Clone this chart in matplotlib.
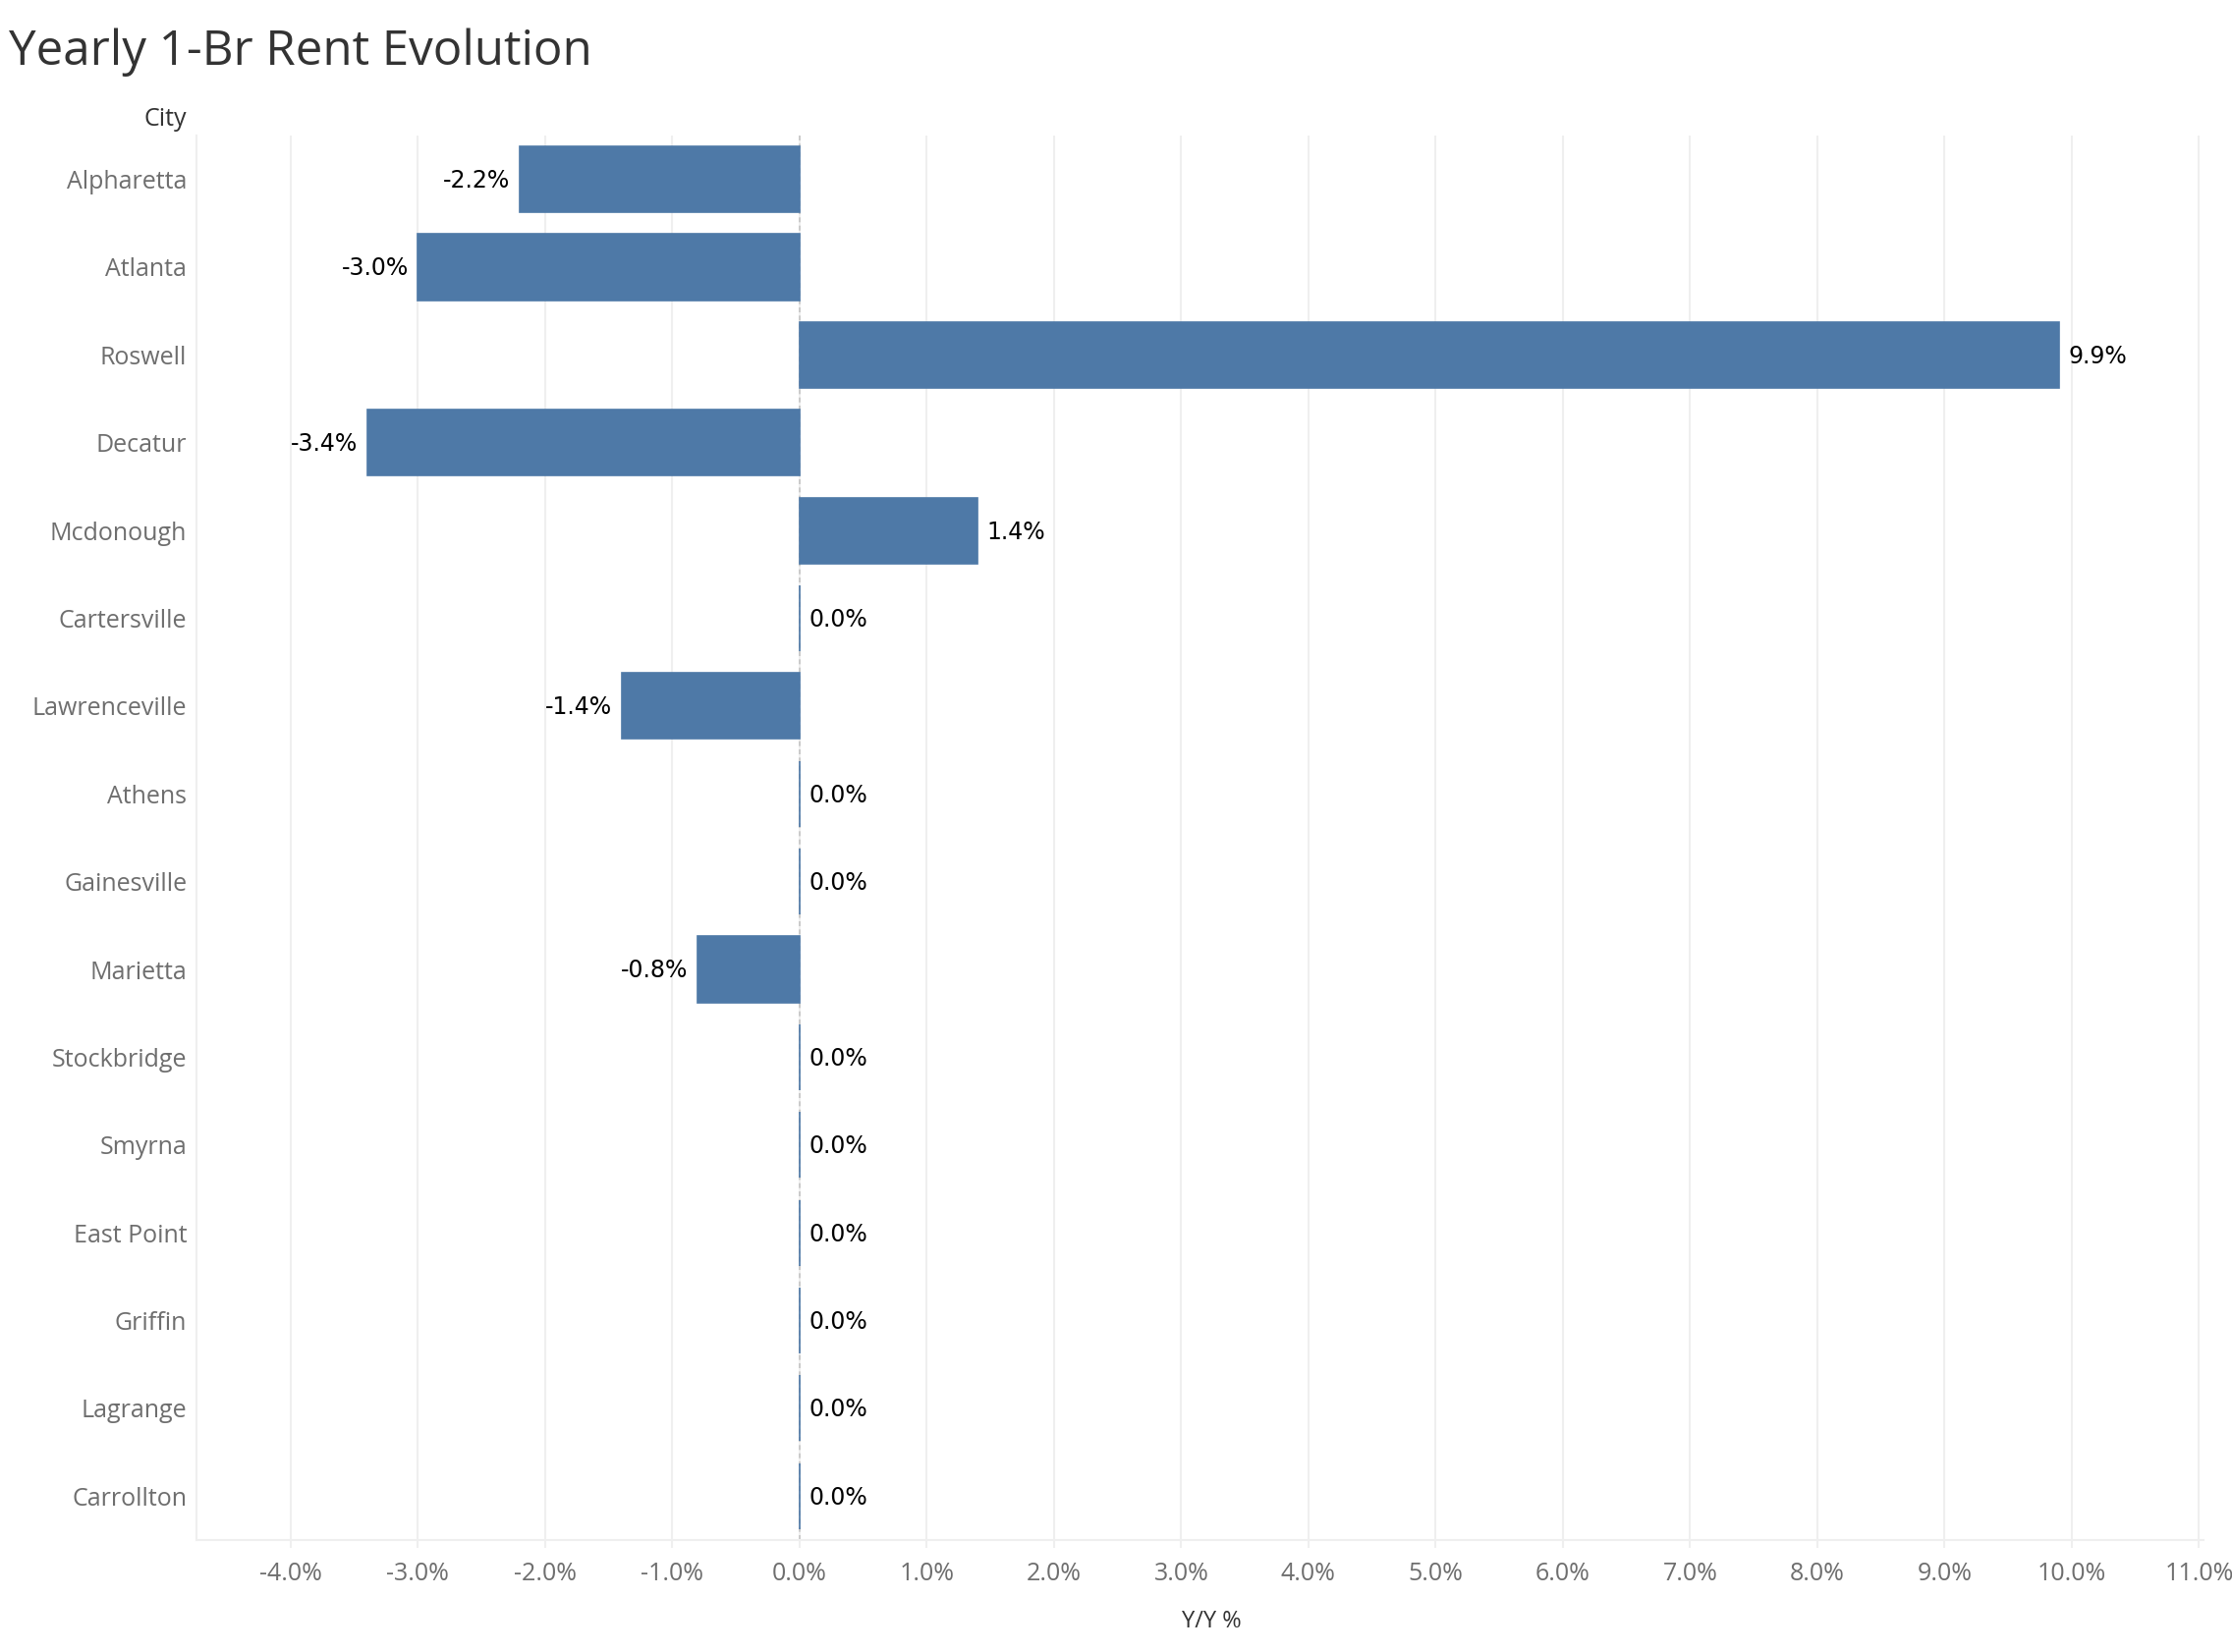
import matplotlib
matplotlib.use("Agg")
import matplotlib.pyplot as plt

# data
cities = ["Alpharetta", "Atlanta", "Roswell", "Decatur", "Mcdonough", "Cartersville",
          "Lawrenceville", "Athens", "Gainesville", "Marietta", "Stockbridge", "Smyrna",
          "East Point", "Griffin", "Lagrange", "Carrollton"]
yy_pct = [-2.2, -3.0, 9.9, -3.4, 1.4, 0.0, -1.4, 0.0, 0.0, -0.8, 0.0, 0.0, 0.0, 0.0, 0.0, 0.0]
x_ticks = list(range(-4, 12))

bar_color = "#4E79A7"
grid_color = "#EFEFEF"
font = "Open Sans"

fig = plt.figure(figsize=(22.72, 16.82), dpi=100)
ax = fig.add_axes([0.088, 0.0678, 0.8992, 0.8502])

ypos = list(range(len(cities)))
ax.barh(ypos, yy_pct, height=0.75, color=bar_color, edgecolor=bar_color, linewidth=1.2, zorder=3)

# value labels
for y, v in zip(ypos, yy_pct):
    if v < 0:
        ax.annotate(f"{v:.1f}%", (v, y), xytext=(-7, -1), textcoords="offset points",
                    ha="right", va="center", fontsize=17, color="black", family="DejaVu Sans")
    else:
        ax.annotate(f"{v:.1f}%", (v, y), xytext=(7, -1), textcoords="offset points",
                    ha="left", va="center", fontsize=17, color="black", family="DejaVu Sans")

ax.set_ylim(len(cities) - 0.5, -0.5)
ax.set_xlim(-4.741, 11.035)
ax.set_yticks(ypos)
ax.set_yticklabels(cities, family=font, fontsize=18, color="#6E6E6E")
ax.set_xticks(x_ticks)
ax.set_xticklabels([f"{t:.1f}%" for t in x_ticks], family=font, fontsize=18, color="#6E6E6E")

ax.tick_params(axis="y", length=0, pad=7)
ax.tick_params(axis="x", length=6, width=1.5, color=grid_color, pad=10)

ax.grid(axis="x", color=grid_color, linewidth=1.5, zorder=0)
ax.axvline(0, color="#C4C4C4", linestyle=(0, (3, 2)), linewidth=1.2, zorder=2)

for side in ["top", "right"]:
    ax.spines[side].set_visible(False)
for side in ["left", "bottom"]:
    ax.spines[side].set_color(grid_color)
    ax.spines[side].set_linewidth(1.5)

ax.set_xlabel("Y/Y %", family=font, fontsize=17, color="#333333", labelpad=20)
ax.xaxis.set_label_coords(0.506, -0.05)

fig.text(0.0835, 1 - 122 / 1682, "City", ha="right", va="center", family=font,
         fontsize=18, color="#333333")
fig.text(0.004, 1 - 66 / 1682, "Yearly 1-Br Rent Evolution", ha="left", va="baseline",
         family=font, fontsize=35.5, color="#333333")

fig.savefig("out.png", dpi=100)
